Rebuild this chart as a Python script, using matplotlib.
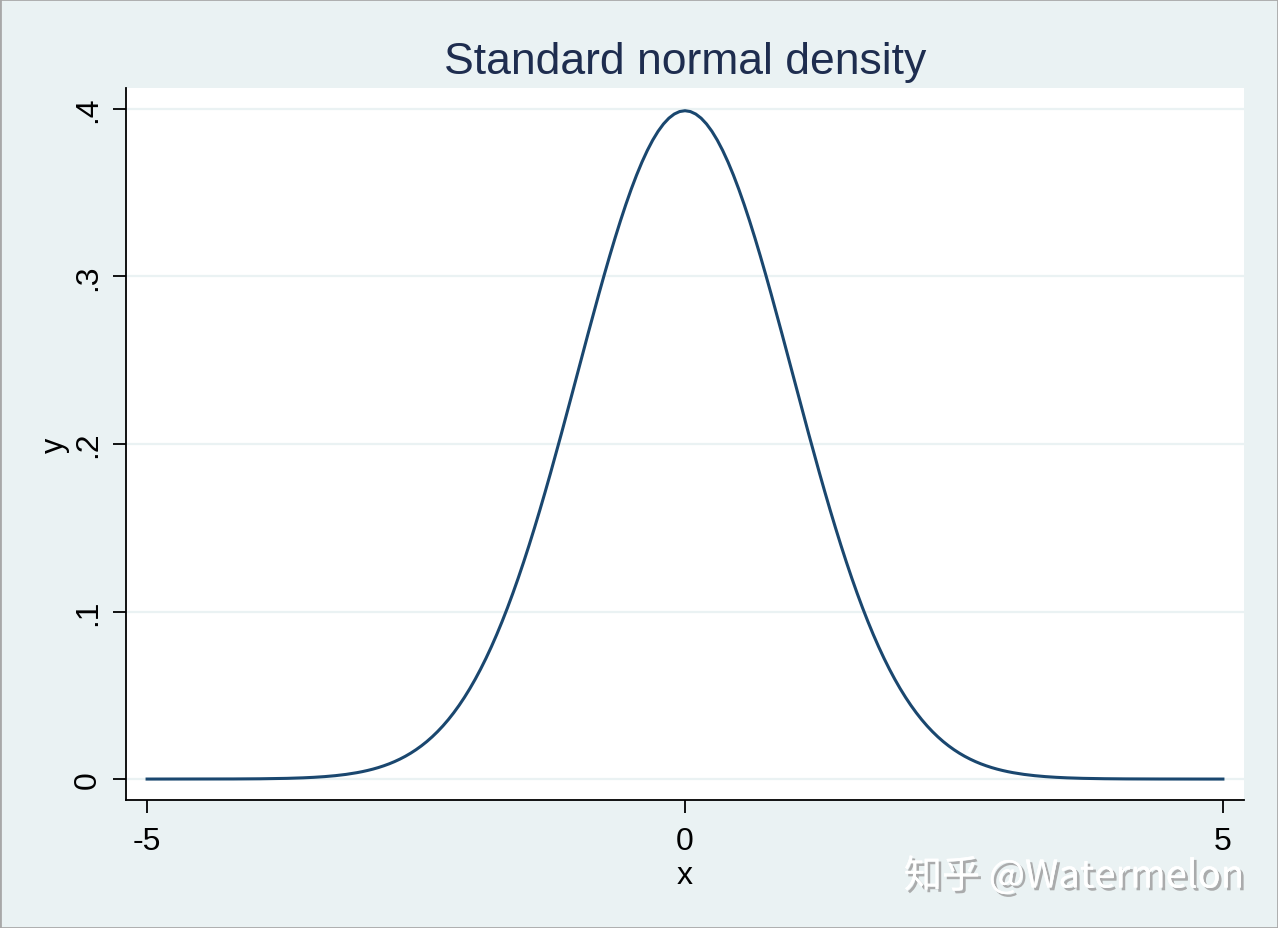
import numpy as np
import matplotlib.pyplot as plt
from matplotlib.patches import Rectangle
import matplotlib.patheffects as pe

# density values, x from -5 to 5 in steps of .05
x = np.round(np.linspace(-5, 5, 201), 2)
y = [0, 0, 0, 0, 0, 0.00001, 0.00001, 0.00001, 0.00001, 0.00001,
     0.00002, 0.00002, 0.00003, 0.00003, 0.00004, 0.00005, 0.00006, 0.00007, 0.00009, 0.00011,
     0.00013, 0.00016, 0.00020, 0.00024, 0.00029, 0.00035, 0.00042, 0.00051, 0.00061, 0.00073,
     0.00087, 0.00104, 0.00123, 0.00146, 0.00172, 0.00203, 0.00238, 0.00279, 0.00327, 0.00381,
     0.00443, 0.00514, 0.00595, 0.00687, 0.00792, 0.00909, 0.01042, 0.01191, 0.01358, 0.01545,
     0.01753, 0.01984, 0.02239, 0.02522, 0.02833, 0.03174, 0.03547, 0.03955, 0.04398, 0.04879,
     0.05399, 0.05959, 0.06562, 0.07206, 0.07895, 0.08628, 0.09405, 0.10226, 0.11092, 0.12001,
     0.12952, 0.13943, 0.14973, 0.16038, 0.17137, 0.18265, 0.19419, 0.20594, 0.21785, 0.22988,
     0.24197, 0.25406, 0.26609, 0.27798, 0.28969, 0.30114, 0.31225, 0.32297, 0.33322, 0.34294,
     0.35207, 0.36053, 0.36827, 0.37524, 0.38139, 0.38667, 0.39104, 0.39448, 0.39695, 0.39844,
     0.39894,
     0.39844, 0.39695, 0.39448, 0.39104, 0.38667, 0.38139, 0.37524, 0.36827, 0.36053, 0.35207,
     0.34294, 0.33322, 0.32297, 0.31225, 0.30114, 0.28969, 0.27798, 0.26609, 0.25406, 0.24197,
     0.22988, 0.21785, 0.20594, 0.19419, 0.18265, 0.17137, 0.16038, 0.14973, 0.13943, 0.12952,
     0.12001, 0.11092, 0.10226, 0.09405, 0.08628, 0.07895, 0.07206, 0.06562, 0.05959, 0.05399,
     0.04879, 0.04398, 0.03955, 0.03547, 0.03174, 0.02833, 0.02522, 0.02239, 0.01984, 0.01753,
     0.01545, 0.01358, 0.01191, 0.01042, 0.00909, 0.00792, 0.00687, 0.00595, 0.00514, 0.00443,
     0.00381, 0.00327, 0.00279, 0.00238, 0.00203, 0.00172, 0.00146, 0.00123, 0.00104, 0.00087,
     0.00073, 0.00061, 0.00051, 0.00042, 0.00035, 0.00029, 0.00024, 0.00020, 0.00016, 0.00013,
     0.00011, 0.00009, 0.00007, 0.00006, 0.00005, 0.00004, 0.00003, 0.00003, 0.00002, 0.00002,
     0.00001, 0.00001, 0.00001, 0.00001, 0.00001, 0, 0, 0, 0, 0]
xticks = [-5, 0, 5]
yticks = [0, 0.1, 0.2, 0.3, 0.4]
ylabels = ['0', '.1', '.2', '.3', '.4']

bg = '#eaf2f3'
plt.rcParams['font.family'] = ['Liberation Sans', 'DejaVu Sans']
plt.rcParams['axes.unicode_minus'] = False

fig = plt.figure(figsize=(12.78, 9.29), dpi=100, facecolor=bg)
W, H = 1278, 929
ax = fig.add_axes([126 / W, 1 - 801 / H, (1244 - 126) / W, (801 - 89) / H])
ax.set_facecolor('white')

ax.plot(x, y, color='#1a476f', lw=2.2, zorder=3, solid_joinstyle='round')

ax.set_xlim(-5.196, 5.196)
ax.set_ylim(-0.0125, 0.4125)
ax.set_xticks(xticks)
ax.set_yticks(yticks)
ax.set_yticklabels(ylabels, rotation=90, va='center')
ax.grid(axis='y', color=bg, lw=1.6)
ax.set_axisbelow(True)
for s in ['top', 'right']:
    ax.spines[s].set_visible(False)
for s in ['left', 'bottom']:
    ax.spines[s].set_linewidth(1.3)
ax.tick_params(length=9.5, width=1.3, labelsize=23)
ax.tick_params(axis='x', pad=9)
ax.tick_params(axis='y', pad=7)
ax.set_xlabel('x', fontsize=23, labelpad=3)
ax.set_ylabel('y', fontsize=22, labelpad=2)
ax.set_title('Standard normal density', fontsize=32, color='#1e2d4f', pad=11)

fig.text(1244 / W, 1 - 878 / H, '知乎 @Watermelon', ha='right', va='center',
         fontsize=27.5, color='white', family=['Noto Sans CJK SC', 'DejaVu Sans'],
         path_effects=[pe.withSimplePatchShadow(offset=(2, -2), shadow_rgbFace='#9a9a9a', alpha=0.8), pe.Normal()])

fig.patches.append(Rectangle((0, 0), 1, 1, transform=fig.transFigure, fill=False,
                             edgecolor='#a8a8a8', lw=2))

fig.savefig('out.png', dpi=100, facecolor=bg)
